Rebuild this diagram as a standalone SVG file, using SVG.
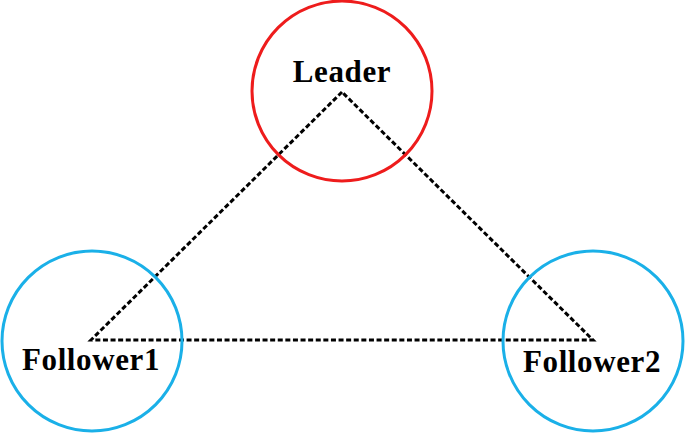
<svg xmlns="http://www.w3.org/2000/svg" width="685" height="433" viewBox="0 0 685 433">
<style>
.leader{fill:none;stroke:#ee1c1c;stroke-width:3}
.follower{fill:none;stroke:#1ab0e8;stroke-width:3}
.link{fill:none;stroke:#000;stroke-width:3;stroke-dasharray:5 2.6}
.lbl{font-family:"Liberation Serif",serif;font-weight:bold;font-size:31px;letter-spacing:0.6px;fill:#000;text-anchor:middle}
</style>
<rect width="685" height="433" fill="#fff"/>
<g id="connectors">
<path class="link" d="M342,92 L91,340 L593,340 Z"/>
</g>
<g id="leader">
<circle class="leader" cx="342" cy="91" r="90"/>
<text class="lbl" x="342" y="82">Leader</text>
</g>
<g id="follower1">
<circle class="follower" cx="92" cy="341" r="90"/>
<text class="lbl" x="91" y="370">Follower1</text>
</g>
<g id="follower2">
<circle class="follower" cx="593" cy="341" r="90"/>
<text class="lbl" x="592" y="372">Follower2</text>
</g>
</svg>
